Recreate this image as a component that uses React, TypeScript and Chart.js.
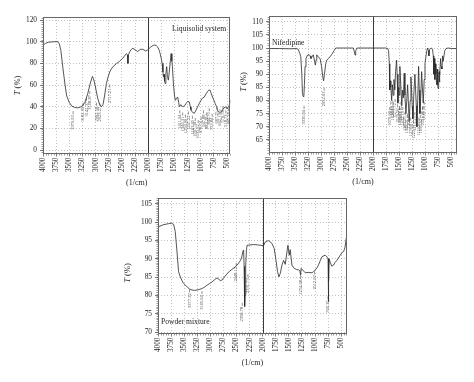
import React, { useEffect, useRef } from 'react';
import { Chart, registerables } from 'chart.js';

Chart.register(...registerables);

type Pt = [number, number];
type Peak = [number, number, string];

// ---------- shared axis ticks ----------
const xTickValues = [4000, 3750, 3500, 3250, 3000, 2750, 2500, 2250, 2000, 1750, 1500, 1250, 1000, 750, 500];
const liquisolidYTicks = [0, 10, 20, 30, 40, 50, 60, 70, 80, 90, 100, 110, 120];
const nifedipineYTicks = [65, 70, 75, 80, 85, 90, 95, 100, 105, 110];
const powderYTicks = [70, 72.5, 75, 77.5, 80, 82.5, 85, 87.5, 90, 92.5, 95, 97.5, 100, 102.5, 105];

// ---------- Liquisolid system spectrum [wavenumber, T%] ----------
const liquisolidSpectrum: Pt[] = [
  [4000, 97], [3950, 98.5], [3900, 99.5], [3800, 100], [3720, 100], [3690, 98], [3660, 92], [3620, 75],
  [3580, 60], [3550, 50], [3500, 44], [3450, 40.5], [3400, 39.5], [3350, 39], [3300, 39.5], [3250, 41],
  [3205, 44], [3150, 52], [3100, 62], [3060, 68], [3040, 66], [3010, 60], [2990, 55], [2960, 48],
  [2930, 43], [2890, 40], [2860, 42], [2830, 50], [2795, 61.5], [2760, 68], [2733, 72], [2700, 75],
  [2670, 77], [2600, 80], [2543, 82], [2480, 85], [2417, 89], [2395, 88], [2386, 80], [2375, 88],
  [2350, 91], [2320, 93], [2291, 94], [2250, 92.5], [2200, 91], [2150, 93], [2103, 93], [2050, 91.5],
  [2019, 92], [1980, 94], [1944, 95.4], [1910, 96.5], [1881, 97], [1850, 96.5], [1818, 95], [1790, 92],
  [1773, 89], [1750, 84], [1735, 80], [1720, 72], [1711, 67.7], [1700, 70], [1690, 64], [1679, 61.5],
  [1665, 70], [1649, 77], [1635, 68], [1617, 64.6], [1600, 72], [1584, 80], [1565, 89], [1550, 82],
  [1540, 77], [1522, 62], [1500, 50], [1484, 46], [1460, 48], [1440, 49], [1420, 44], [1408, 40],
  [1380, 42], [1346, 40], [1310, 41], [1282, 43], [1250, 45], [1219, 44.6], [1200, 40], [1187, 37],
  [1160, 35], [1125, 34], [1100, 36], [1062, 40], [1030, 43], [998, 46], [970, 48], [935, 49],
  [900, 52], [873, 54], [850, 55.4], [827, 55.4], [800, 52], [778, 49], [750, 46], [727, 43],
  [700, 40], [683, 37], [660, 35], [638, 34], [610, 35], [589, 37], [560, 39], [525, 40],
  [500, 38], [462, 41], [437, 46],
];
const liquisolidPeaks: Peak[] = [
  [3427, 32.3, '3379.93'], [3238, 40, '3182.35'], [3173, 44.6, '3142.37'], [3111, 50.8, '3108.87'],
  [2984, 40, '2962.58'], [2922, 40, '2923.27'], [2732, 56.9, '2717.21'],
  [1400, 33, '1411.94'], [1345, 31, '1346.31'], [1290, 29, '1294.96'], [1235, 32, '1247.22'],
  [1160, 28, '1163.95'], [1105, 26, '1097.34'], [1050, 24, '1035.62'], [995, 27, '978.74'],
  [950, 33, '947.88'], [895, 31, '883.28'], [840, 35, '844.70'], [785, 30, '759.84'],
  [690, 36, '667.25'], [635, 34, '642.17'], [580, 37, '576.59'], [525, 33, '518.73'], [470, 35, '495.58'],
];

// ---------- Nifedipine spectrum ----------
const nifedipineSpectrum: Pt[] = [
  [4000, 99.8], [3800, 99.8], [3600, 99.7], [3480, 99.8], [3440, 99.5], [3410, 98], [3390, 96.7], [3370, 90],
  [3358, 83], [3345, 81.5], [3330, 82], [3320, 86], [3308, 92.9], [3290, 96], [3262, 97.3], [3230, 97.5],
  [3212, 97], [3195, 96], [3179, 96.5], [3150, 97.4], [3125, 95], [3110, 93.5], [3095, 95.5], [3083, 97.4],
  [3050, 96.5], [3019, 96], [2990, 92.9], [2967, 89], [2952, 87.5], [2935, 90], [2910, 94], [2890, 95.4],
  [2858, 96], [2800, 97.4], [2750, 99], [2720, 100], [2500, 100], [2380, 100], [2360, 98.5], [2346, 97.3],
  [2335, 99], [2310, 100], [2000, 100], [1760, 100], [1720, 99.8], [1704, 99], [1690, 94], [1681, 84],
  [1673, 87.5], [1660, 85], [1645, 80], [1630, 86], [1615, 82], [1600, 88], [1585, 84], [1570, 91],
  [1550, 95.4], [1540, 90], [1525, 79], [1510, 85], [1500, 82], [1487, 93], [1470, 86], [1450, 78],
  [1435, 84], [1420, 81], [1404, 90.4], [1390, 82], [1371, 75], [1355, 80], [1338, 86], [1325, 80],
  [1308, 72], [1290, 80], [1275, 89], [1260, 83], [1250, 78], [1237, 73], [1220, 82], [1198, 90],
  [1185, 84], [1172, 78], [1160, 70], [1145, 80], [1127, 93], [1115, 84], [1102, 75], [1085, 82],
  [1069, 91], [1055, 85], [1038, 79], [1020, 88], [1005, 94], [992, 96], [970, 99], [954, 100],
  [940, 99], [929, 97], [918, 99.5], [880, 100], [860, 99.5], [845, 97], [835, 90], [825, 96],
  [815, 88], [805, 94], [795, 90], [781, 86], [772, 92], [765, 89], [758, 86], [750, 84.5],
  [742, 88], [735, 91], [728, 87], [717, 90], [705, 96], [695, 93], [679, 92], [665, 97],
  [655, 95], [640, 95], [625, 99], [600, 99.8], [560, 100], [500, 99.8], [390, 99.8],
];
const nifedipinePeaks: Peak[] = [
  [3327, 76.4, '3330.94'], [2942, 83.4, '2952.63'],
  [1681, 76, '1679.69'], [1648, 80, '1647.70'], [1618, 78, '1620.53'], [1580, 79, '1577.72'],
  [1530, 77, '1529.56'], [1497, 76, '1496.72'], [1467, 78, '1467.82'], [1432, 76, '1432.19'],
  [1384, 74, '1383.95'], [1346, 73, '1346.31'], [1310, 75, '1309.67'], [1279, 72, '1278.81'],
  [1226, 71, '1225.77'], [1198, 74, '1213.23'], [1120, 72, '1119.69'], [1094, 73, '1099.43'],
  [1051, 76, '1051.20'], [1019, 78, '1019.38'],
];

// ---------- Powder mixture spectrum ----------
const powderSpectrum: Pt[] = [
  [4000, 98.7], [3900, 99.3], [3800, 99.6], [3740, 99.7], [3701, 99.4], [3670, 97.4], [3637, 91.9], [3607, 86.5],
  [3574, 85.1], [3540, 84], [3511, 83.3], [3446, 82.4], [3400, 81.8], [3351, 81.5], [3300, 81.4], [3255, 81.5],
  [3200, 81.7], [3160, 81.9], [3110, 82.3], [3064, 82.8], [3020, 83.2], [2969, 83.7], [2920, 84.3], [2873, 84.8],
  [2840, 84.5], [2810, 84], [2780, 84.2], [2747, 84.8], [2700, 85.6], [2652, 86.4], [2600, 87], [2524, 87.8],
  [2470, 88.6], [2428, 89.5], [2400, 90.5], [2380, 92], [2365, 92.4], [2355, 88], [2348, 80], [2342, 77],
  [2336, 80], [2325, 88], [2310, 92.5], [2300, 93.7], [2172, 93.9], [2100, 93.8], [2040, 93.7], [1982, 93.6],
  [1951, 94.6], [1888, 95], [1824, 94.2], [1780, 92.8], [1742, 89.2], [1716, 86.5], [1690, 85.1], [1665, 86],
  [1632, 88.3], [1601, 89.6], [1569, 88.5], [1537, 91.9], [1518, 93.7], [1493, 91], [1475, 92.5], [1442, 88.3],
  [1398, 87.4], [1355, 87.1], [1315, 87], [1290, 86.8], [1277, 85.5], [1265, 87.4], [1250, 87.4], [1187, 86.2],
  [1120, 86.3], [1059, 86.2], [1030, 86.5], [996, 87], [960, 87.6], [930, 88.5], [900, 89.5], [868, 90.6],
  [805, 91], [770, 90.5], [752, 90], [746, 84], [742, 78.3], [738, 84], [730, 90], [710, 89],
  [680, 88], [646, 88.3], [620, 89], [583, 89.6], [519, 91], [480, 91.8], [455, 92], [430, 93],
  [404, 95.6], [390, 96.5],
];
const powderPeaks: Peak[] = [
  [3397, 80.6, '3377.32'], [3160, 80.1, '3165.64'], [2505, 87.8, '2448.12'], [2390, 76.9, '2358.78'],
  [2282, 84.7, '2331.73'], [1277, 84.2, '1274.68'], [1010, 85.5, '1012.92'], [754, 78.7, '760.35'],
];

const FONT = '"Liberation Serif", "DejaVu Serif", serif';

interface Panel {
  spectrum: Pt[];
  peaks: Peak[];
  yTicks: number[];
  yMin: number;
  yMax: number;
  yMinorStep: number;
  xMin: number;
  title: string;
  titleX: number;
  titleY: number;
  yTitleX: number;
  yTitleY: number;
  box: { left: number; top: number; w: number; h: number };
  plot: { left: number; right: number; top: number; bottom: number };
}

const panels: Panel[] = [
  {
    spectrum: liquisolidSpectrum, peaks: liquisolidPeaks, yTicks: liquisolidYTicks,
    yMin: -3.5, yMax: 122.8, yMinorStep: 2, xMin: 437,
    title: 'Liquisolid system', titleX: 172, titleY: 29, yTitleX: 18, yTitleY: 85.5,
    box: { left: 0, top: 0, w: 237, h: 190 },
    plot: { left: 43, right: 231, top: 17, bottom: 154 },
  },
  {
    spectrum: nifedipineSpectrum, peaks: nifedipinePeaks, yTicks: nifedipineYTicks,
    yMin: 60, yMax: 112.2, yMinorStep: 1, xMin: 390,
    title: 'Nifedipine', titleX: 35, titleY: 43, yTitleX: 6.7, yTitleY: 82,
    box: { left: 237, top: 0, w: 237, h: 190 },
    plot: { left: 32, right: 220, top: 16, bottom: 153 },
  },
  {
    spectrum: powderSpectrum, peaks: powderPeaks, yTicks: powderYTicks,
    yMin: 69.5, yMax: 106.6, yMinorStep: 0.5, xMin: 390,
    title: 'Powder mixture', titleX: 41, titleY: 137, yTitleX: 7.3, yTitleY: 88,
    box: { left: 120, top: 185, w: 240, h: 197 },
    plot: { left: 38, right: 227, top: 13, bottom: 149 },
  },
];

function decorPlugin(p: Panel) {
  return {
    id: 'ftirDecor',
    afterDraw(chart: any) {
      const { ctx, chartArea: a, scales } = chart;
      const xs = scales.x;
      const ys = scales.y;
      ctx.save();
      // separator at 2000
      const x2000 = Math.round(xs.getPixelForValue(2000)) + 0.5;
      ctx.strokeStyle = '#3a3a3a';
      ctx.lineWidth = 1;
      ctx.beginPath();
      ctx.moveTo(x2000, a.top);
      ctx.lineTo(x2000, a.bottom);
      ctx.stroke();
      // frame
      ctx.strokeStyle = '#666';
      ctx.lineWidth = 1;
      ctx.strokeRect(Math.round(a.left) + 0.5, Math.round(a.top) + 0.5, Math.round(a.right - a.left) - 1, Math.round(a.bottom - a.top) - 1);
      // minor ticks
      ctx.strokeStyle = '#555';
      ctx.lineWidth = 0.6;
      ctx.beginPath();
      for (let w = 4000; w >= p.xMin; w -= 50) {
        if (w % 250 === 0) continue;
        const px = Math.round(xs.getPixelForValue(w)) + 0.5;
        ctx.moveTo(px, a.bottom);
        ctx.lineTo(px, a.bottom + 1.5);
      }
      for (let v = Math.ceil(p.yMin / p.yMinorStep) * p.yMinorStep; v <= p.yMax; v += p.yMinorStep) {
        const py = Math.round(ys.getPixelForValue(v)) + 0.5;
        ctx.moveTo(a.left, py);
        ctx.lineTo(a.left - 1.5, py);
      }
      ctx.stroke();
      // peak labels
      ctx.fillStyle = '#444';
      ctx.strokeStyle = '#444';
      ctx.lineWidth = 0.6;
      ctx.font = `4.5px ${FONT}`;
      ctx.textAlign = 'right';
      ctx.textBaseline = 'middle';
      for (const [wn, top, text] of p.peaks) {
        const px = xs.getPixelForValue(wn);
        const py = ys.getPixelForValue(top);
        ctx.beginPath();
        ctx.moveTo(px, py - 1);
        ctx.lineTo(px, py - 4);
        ctx.stroke();
        ctx.save();
        ctx.translate(px, py);
        ctx.rotate(-Math.PI / 2);
        ctx.fillText(text, 0, 0);
        ctx.restore();
      }
      // panel title
      ctx.fillStyle = '#222';
      ctx.font = `7.6px ${FONT}`;
      ctx.textAlign = 'left';
      ctx.textBaseline = 'middle';
      ctx.fillText(p.title, p.titleX, p.titleY);
      // x title
      ctx.font = `8px ${FONT}`;
      ctx.textAlign = 'center';
      ctx.fillText('(1/cm)', (a.left + a.right) / 2, a.bottom + 29);
      // y title with italic T
      ctx.save();
      ctx.translate(p.yTitleX, p.yTitleY);
      ctx.rotate(-Math.PI / 2);
      ctx.font = `italic 8.5px ${FONT}`;
      const wT = ctx.measureText('T').width;
      ctx.font = `8.5px ${FONT}`;
      const wR = ctx.measureText(' (%)').width;
      const start = -(wT + wR) / 2;
      ctx.textAlign = 'left';
      ctx.font = `italic 8.5px ${FONT}`;
      ctx.fillText('T', start, 0);
      ctx.font = `8.5px ${FONT}`;
      ctx.fillText(' (%)', start + wT, 0);
      ctx.restore();
      ctx.restore();
    },
  };
}

function SpectrumPanel({ p }: { p: Panel }) {
  const ref = useRef<HTMLCanvasElement | null>(null);
  useEffect(() => {
    if (!ref.current) return;
    const chart = new Chart(ref.current, {
      type: 'line',
      data: {
        datasets: [
          {
            data: p.spectrum.map(([x, y]) => ({ x, y })),
            borderColor: '#2a2a2a',
            borderWidth: 0.8,
            pointRadius: 0,
            tension: 0,
            fill: false,
          },
        ],
      },
      options: {
        animation: false,
        responsive: false,
        devicePixelRatio: 1,
        events: [],
        plugins: { legend: { display: false }, tooltip: { enabled: false } },
        layout: { padding: { left: 0, top: p.plot.top, right: p.box.w - p.plot.right, bottom: 0 } },
        scales: {
          x: {
            type: 'linear',
            reverse: true,
            min: p.xMin,
            max: 4000,
            afterBuildTicks: (s: any) => { s.ticks = xTickValues.map((v) => ({ value: v })); },
            afterFit: (s: any) => { s.height = p.box.h - p.plot.bottom; },
            ticks: {
              autoSkip: false, minRotation: 90, maxRotation: 90, padding: 1,
              color: '#222', font: { family: FONT, size: 7.3 },
              callback: (v: any) => String(v),
            },
            grid: { color: '#a8a8a8', lineWidth: 0.7, tickLength: 2.5, tickColor: '#444' },
            border: { display: false, dash: [1, 2] },
          },
          y: {
            type: 'linear',
            min: p.yMin,
            max: p.yMax,
            afterBuildTicks: (s: any) => { s.ticks = p.yTicks.map((v) => ({ value: v })); },
            afterFit: (s: any) => { s.width = p.plot.left; },
            ticks: { padding: 3, color: '#222', font: { family: FONT, size: 7.3 }, callback: (v: any) => String(v) },
            grid: { color: '#a8a8a8', lineWidth: 0.7, tickLength: 3, tickColor: '#444' },
            border: { display: false, dash: [1, 2] },
          },
        },
      } as any,
      plugins: [decorPlugin(p)],
    });
    return () => chart.destroy();
  }, [p]);
  return (
    <canvas
      ref={ref}
      width={p.box.w}
      height={p.box.h}
      style={{ position: 'absolute', left: p.box.left, top: p.box.top, width: p.box.w, height: p.box.h }}
    />
  );
}

export default function App() {
  return (
    <div style={{ position: 'absolute', left: 0, top: 0, width: 474, height: 382, background: '#fff', overflow: 'hidden' }}>
      {panels.map((p, i) => (
        <SpectrumPanel key={i} p={p} />
      ))}
    </div>
  );
}
